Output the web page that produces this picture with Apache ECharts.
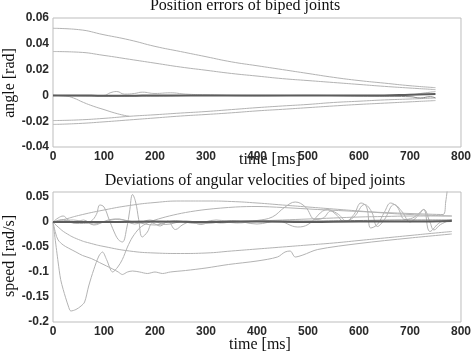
<!DOCTYPE html>
<html>
<head>
<meta charset="utf-8">
<script src="https://cdn.jsdelivr.net/npm/echarts@6/dist/echarts.min.js"></script>
<style>
  html, body { margin: 0; padding: 0; background: #fff; }
  #chart { width: 474px; height: 352px; }
</style>
</head>
<body>
<div id="chart"></div>
<script>
  // top plot: position errors (time in ms, angle in rad)
  const tTop = [0, 50, 100, 150, 200, 250, 300, 350, 400, 450, 500, 550, 600, 650, 700, 750];
  const posA = [0.052, 0.051, 0.047, 0.043, 0.038, 0.034, 0.030, 0.026, 0.023, 0.020, 0.017, 0.014, 0.0115, 0.0095, 0.0075, 0.006];
  const posB = [0.034, 0.0335, 0.031, 0.028, 0.025, 0.022, 0.0195, 0.017, 0.015, 0.013, 0.0115, 0.010, 0.0085, 0.007, 0.0057, 0.0045];
  const posC = [-0.0195, -0.019, -0.0178, -0.0162, -0.015, -0.0137, -0.0125, -0.011, -0.0095, -0.0082, -0.007, -0.0055, -0.0045, -0.0035, -0.0028, -0.002];
  const posD = [-0.0225, -0.0218, -0.0205, -0.019, -0.0175, -0.016, -0.0148, -0.0135, -0.012, -0.0108, -0.0095, -0.0082, -0.007, -0.006, -0.005, -0.004];
  const posZero = [0, 0, -0.0003, -0.0003, 0, 0, 0, 0, 0, 0, 0, 0, 0, 0, 0.0005, 0.001];
  const tPosE = [0, 25, 40, 60, 80, 100, 120, 140, 150];
  const posE = [0, -0.0005, -0.002, -0.0055, -0.0085, -0.011, -0.0135, -0.0155, -0.0162];
  const tPosF = [0, 100, 112, 125, 140, 160, 175, 200, 230, 260, 300, 400, 500, 600, 700, 730, 750];
  const posF = [0, 0, 0.002, 0.003, 0.001, 0.0015, 0.0025, 0.0015, 0.002, 0.001, 0.0005, 0, 0, 0, 0.0005, 0.002, 0.003];
  const tPosG = [0, 100, 200, 300, 400, 500, 600, 700, 720, 740, 750];
  const posG = [0, -0.0005, -0.0005, 0, -0.0003, 0, -0.0005, -0.001, -0.002, -0.001, -0.002];

  // bottom plot: velocity deviations (rad/s)
  const tVelA = [0, 25, 50, 100, 150, 200, 250, 300, 350, 400, 450, 500, 550, 600, 650, 700, 750, 782];
  const velA = [0, 0.006, 0.013, 0.024, 0.033, 0.039, 0.042, 0.042, 0.041, 0.038, 0.034, 0.030, 0.026, 0.022, 0.018, 0.015, 0.013, 0.012];
  const tVelB = [0, 10, 15, 20, 30, 35, 45, 55, 62, 70, 80, 90, 97, 105, 117, 127, 136, 146, 156, 170, 185, 200, 228, 260, 300, 358, 400, 450, 519, 600, 700, 765, 770, 775];
  const velB = [0, -0.08, -0.115, -0.135, -0.168, -0.178, -0.175, -0.168, -0.16, -0.128, -0.095, -0.068, -0.06, -0.075, -0.1, -0.09, -0.075, -0.05, -0.03, -0.012, -0.002, 0.004, 0.012, 0.019, 0.025, 0.030, 0.031, 0.029, 0.025, 0.021, 0.017, 0.015, 0.04, 0.08];
  const tVelC = [0, 5, 10, 20, 30, 45, 58, 75, 91, 105, 117, 128, 136, 146, 156, 170, 185, 200, 215, 230, 260, 300, 344, 400, 440, 455, 465, 475, 490, 519, 600, 700, 782];
  const velC = [0, -0.022, -0.036, -0.046, -0.052, -0.06, -0.067, -0.073, -0.081, -0.088, -0.094, -0.1, -0.105, -0.1, -0.098, -0.1, -0.103, -0.1, -0.103, -0.1, -0.097, -0.092, -0.085, -0.078, -0.07, -0.06, -0.058, -0.07, -0.066, -0.055, -0.043, -0.032, -0.024];
  const tVelD = [0, 10, 25, 50, 75, 100, 150, 200, 250, 300, 350, 400, 450, 500, 550, 600, 650, 700, 750, 782];
  const velD = [0, -0.01, -0.022, -0.035, -0.043, -0.049, -0.058, -0.062, -0.063, -0.062, -0.058, -0.054, -0.05, -0.046, -0.042, -0.037, -0.032, -0.027, -0.022, -0.019];
  const tVelE = [0, 10, 20, 30, 45, 60, 75, 85, 92, 100, 110, 120, 128, 136, 145, 150, 156, 162, 168, 175, 185, 195, 210, 225, 240, 255, 270, 290, 310, 330, 350, 400, 450, 500, 550, 600, 650, 700, 782];
  const velE = [0, 0.008, 0.012, 0.004, -0.003, -0.003, 0.002, 0.015, 0.034, 0.03, 0.005, -0.02, -0.035, -0.04, -0.01, 0.02, 0.055, 0.04, 0.005, -0.03, -0.02, -0.002, -0.008, 0.002, -0.015, -0.005, 0, -0.005, 0, -0.002, 0, 0.002, 0.004, 0.006, 0.008, 0.01, 0.011, 0.012, 0.012];
  const tVelF = [0, 40, 80, 120, 160, 200, 240, 280, 320, 360, 400, 430, 455, 475, 495, 514, 530, 545, 560, 575, 590, 604, 615, 623, 636, 650, 662, 675, 690, 705, 715, 727, 739, 747, 760, 782];
  const velF = [0, 0.004, -0.004, 0.006, 0, -0.006, 0.003, -0.003, 0.004, -0.002, 0.003, 0.01, 0.03, 0.04, 0.03, 0.005, 0.008, 0.022, 0.015, 0.002, 0.015, 0.038, 0.03, -0.012, -0.005, 0.02, 0.038, 0.03, 0.005, 0.008, 0.015, 0.025, 0, -0.016, -0.005, 0.005];
  const tVelG = [0, 20, 40, 60, 80, 100, 130, 160, 190, 220, 260, 300, 350, 400, 440, 480, 500, 539, 555, 571, 590, 611, 625, 636, 650, 669, 685, 700, 715, 727, 739, 760, 782];
  const velG = [0, 0.005, -0.002, 0.004, -0.006, 0, 0.006, -0.004, 0.004, -0.005, 0.002, -0.003, 0.003, -0.004, 0.002, -0.01, -0.005, 0.025, 0.015, 0.001, 0.01, 0.035, 0.02, -0.009, 0.005, 0.035, 0.02, 0, 0.012, 0.025, -0.019, 0, 0.004];
  const tVelZero = [0, 100, 200, 300, 400, 500, 600, 700, 782];
  const velZero = [0, 0, 0.001, 0, 0.001, 0, 0.001, 0.001, 0.002];
  const velZero2 = [0, -0.001, 0, 0.001, 0.002, 0.002, 0.003, 0.004, 0.004];

  const xTicks = [0, 800, 100];
  const yTopTicks = [-0.04, 0.06, 0.02];
  const yBotTicks = [-0.2, 0.06, 0.05];

  const light = '#b3b3b3';
  const dark = '#5c5c5c';

  function pts(t, v) { return t.map((x, i) => [x, v[i]]); }
  function line(idx, t, v, color, width, smooth) {
    return {
      type: 'line', xAxisIndex: idx, yAxisIndex: idx,
      data: pts(t, v), showSymbol: false, smooth: smooth,
      lineStyle: { color: color, width: width }, silent: true, animation: false
    };
  }

  const tickFmt = v => String(+v.toFixed(3));
  const axisLbl = { fontFamily: 'Liberation Sans', fontSize: 12, fontWeight: 'bold', color: '#2a2a2a' };

  function xAxis(idx) {
    return {
      type: 'value', gridIndex: idx, min: xTicks[0], max: xTicks[1], interval: xTicks[2],
      axisLine: { show: false }, axisTick: { show: false }, splitLine: { show: false },
      axisLabel: Object.assign({ margin: 4 }, axisLbl)
    };
  }
  function yAxis(idx, tk) {
    return {
      type: 'value', gridIndex: idx, min: tk[0], max: tk[1], interval: tk[2],
      axisLine: { show: false }, axisTick: { show: false }, splitLine: { show: false },
      axisLabel: Object.assign({ margin: 4, formatter: tickFmt, showMaxLabel: idx === 0 }, axisLbl)
    };
  }

  const serif = "16px 'Liberation Serif'";
  function txt(x, y, s, rot) {
    return {
      type: 'text', x: x, y: y, rotation: rot || 0, silent: true,
      style: { text: s, font: serif, fill: '#111', align: 'center', verticalAlign: 'middle' }
    };
  }

  const chart = echarts.init(document.getElementById('chart'), null, { renderer: 'canvas' });
  chart.setOption({
    backgroundColor: '#fff',
    animation: false,
    grid: [
      { left: 53, right: 10, top: 18, height: 129, show: true, borderColor: '#bdbdbd', borderWidth: 1, backgroundColor: 'transparent' },
      { left: 53, right: 10, top: 192, height: 130, show: true, borderColor: '#bdbdbd', borderWidth: 1, backgroundColor: 'transparent' }
    ],
    xAxis: [xAxis(0), xAxis(1)],
    yAxis: [yAxis(0, yTopTicks), yAxis(1, yBotTicks)],
    graphic: [
      txt(245, 6, 'Position errors of biped joints'),
      txt(270, 160, 'time [ms]'),
      txt(10, 83, 'angle [rad]', Math.PI / 2),
      txt(255, 181, 'Deviations of angular velocities of biped joints'),
      txt(260, 345, 'time [ms]'),
      txt(10, 256, 'speed [rad/s]', Math.PI / 2)
    ],
    series: [
      line(0, tTop, posA, light, 1, true),
      line(0, tTop, posB, light, 1, true),
      line(0, tTop, posC, light, 1, true),
      line(0, tTop, posD, light, 1, true),
      line(0, tPosE, posE, light, 1, true),
      line(0, tPosF, posF, light, 1, true),
      line(0, tPosG, posG, '#888', 1, true),
      line(0, tTop, posZero, dark, 2, true),
      line(1, tVelA, velA, light, 1, true),
      line(1, tVelB, velB, light, 1, 0.3),
      line(1, tVelC, velC, light, 1, 0.3),
      line(1, tVelD, velD, light, 1, true),
      line(1, tVelE, velE, light, 1, 0.4),
      line(1, tVelF, velF, light, 1, 0.4),
      line(1, tVelG, velG, light, 1, 0.4),
      line(1, tVelZero, velZero2, '#888', 1, true),
      line(1, tVelZero, velZero, dark, 2, true)
    ]
  });
</script>
</body>
</html>
